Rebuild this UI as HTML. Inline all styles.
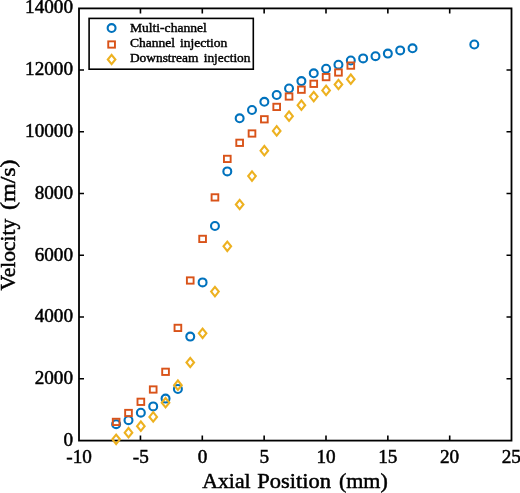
<!DOCTYPE html>
<html><head><meta charset="utf-8"><title>Velocity vs Axial Position</title>
<style>html,body{margin:0;padding:0;background:#fff;}body{width:520px;height:493px;overflow:hidden;}svg{display:block;}</style>
</head><body>
<svg width="520" height="493" viewBox="0 0 520 493">
<rect width="520" height="493" fill="#fff"/>
<rect x="79.0" y="8.4" width="432.5" height="432.20000000000005" fill="none" stroke="#000" stroke-width="1.8"/>
<path d="M140.45 440.6V435.6M140.45 8.4V13.4M202.30 440.6V435.6M202.30 8.4V13.4M264.15 440.6V435.6M264.15 8.4V13.4M326.00 440.6V435.6M326.00 8.4V13.4M387.85 440.6V435.6M387.85 8.4V13.4M449.70 440.6V435.6M449.70 8.4V13.4M79.0 378.74H84.0M511.5 378.74H506.5M79.0 316.98H84.0M511.5 316.98H506.5M79.0 255.22H84.0M511.5 255.22H506.5M79.0 193.46H84.0M511.5 193.46H506.5M79.0 131.70H84.0M511.5 131.70H506.5M79.0 69.94H84.0M511.5 69.94H506.5" stroke="#000" stroke-width="1.6" fill="none"/>
<g font-family="Liberation Serif, serif" font-size="19.2" fill="#000" stroke="#000" stroke-width="0.5"><text x="79.10" y="462.9" text-anchor="middle">-10</text><text x="140.85" y="462.9" text-anchor="middle">-5</text><text x="202.60" y="462.9" text-anchor="middle">0</text><text x="264.35" y="462.9" text-anchor="middle">5</text><text x="326.10" y="462.9" text-anchor="middle">10</text><text x="387.85" y="462.9" text-anchor="middle">15</text><text x="449.60" y="462.9" text-anchor="middle">20</text><text x="511.35" y="462.9" text-anchor="middle">25</text><text x="73" y="445.80" text-anchor="end">0</text><text x="73" y="384.04" text-anchor="end">2000</text><text x="73" y="322.28" text-anchor="end">4000</text><text x="73" y="260.52" text-anchor="end">6000</text><text x="73" y="198.76" text-anchor="end">8000</text><text x="73" y="137.00" text-anchor="end">10000</text><text x="73" y="75.24" text-anchor="end">12000</text><text x="73" y="13.48" text-anchor="end">14000</text></g>
<g font-family="Liberation Serif, serif" font-size="21.8" fill="#000" stroke="#000" stroke-width="0.5"><text x="202.2" y="488" textLength="48.5" lengthAdjust="spacingAndGlyphs">Axial</text><text x="257.3" y="488" textLength="73.8" lengthAdjust="spacingAndGlyphs">Position</text><text x="338.9" y="488" textLength="48.9" lengthAdjust="spacingAndGlyphs">(mm)</text></g>
<g transform="translate(15.3 0) rotate(-90)" font-family="Liberation Serif, serif" font-size="21.8" fill="#000" stroke="#000" stroke-width="0.5"><text x="-290.4" y="0" textLength="71.6" lengthAdjust="spacingAndGlyphs">Velocity</text><text x="-210.0" y="0" textLength="50.6" lengthAdjust="spacingAndGlyphs">(m/s)</text></g>
<g fill="none" stroke="#0072BD" stroke-width="2.1"><circle cx="116.15" cy="424.20" r="3.95"/><circle cx="128.50" cy="420.20" r="3.95"/><circle cx="140.85" cy="412.70" r="3.95"/><circle cx="153.20" cy="406.40" r="3.95"/><circle cx="165.55" cy="398.60" r="3.95"/><circle cx="177.90" cy="389.00" r="3.95"/><circle cx="190.25" cy="336.60" r="3.95"/><circle cx="202.60" cy="282.40" r="3.95"/><circle cx="214.95" cy="226.00" r="3.95"/><circle cx="227.30" cy="171.40" r="3.95"/><circle cx="239.65" cy="118.30" r="3.95"/><circle cx="252.00" cy="110.00" r="3.95"/><circle cx="264.35" cy="101.80" r="3.95"/><circle cx="276.70" cy="95.00" r="3.95"/><circle cx="289.05" cy="88.50" r="3.95"/><circle cx="301.40" cy="81.10" r="3.95"/><circle cx="313.75" cy="73.30" r="3.95"/><circle cx="326.10" cy="68.70" r="3.95"/><circle cx="338.45" cy="64.70" r="3.95"/><circle cx="350.80" cy="60.50" r="3.95"/><circle cx="363.15" cy="58.40" r="3.95"/><circle cx="375.50" cy="56.20" r="3.95"/><circle cx="387.85" cy="53.60" r="3.95"/><circle cx="400.20" cy="50.40" r="3.95"/><circle cx="412.55" cy="48.30" r="3.95"/><circle cx="474.30" cy="44.50" r="3.95"/></g>
<g fill="none" stroke="#D95319" stroke-width="1.9"><rect x="112.80" y="418.75" width="6.7" height="6.3"/><rect x="125.15" y="409.85" width="6.7" height="6.3"/><rect x="137.50" y="398.65" width="6.7" height="6.3"/><rect x="149.85" y="386.35" width="6.7" height="6.3"/><rect x="162.20" y="368.65" width="6.7" height="6.3"/><rect x="174.55" y="324.75" width="6.7" height="6.3"/><rect x="186.90" y="277.35" width="6.7" height="6.3"/><rect x="199.25" y="235.75" width="6.7" height="6.3"/><rect x="211.60" y="194.25" width="6.7" height="6.3"/><rect x="223.95" y="155.75" width="6.7" height="6.3"/><rect x="236.30" y="139.65" width="6.7" height="6.3"/><rect x="248.65" y="130.35" width="6.7" height="6.3"/><rect x="261.00" y="116.15" width="6.7" height="6.3"/><rect x="273.35" y="103.75" width="6.7" height="6.3"/><rect x="285.70" y="93.35" width="6.7" height="6.3"/><rect x="298.05" y="86.55" width="6.7" height="6.3"/><rect x="310.40" y="80.65" width="6.7" height="6.3"/><rect x="322.75" y="73.95" width="6.7" height="6.3"/><rect x="335.10" y="69.35" width="6.7" height="6.3"/><rect x="347.45" y="62.45" width="6.7" height="6.3"/></g>
<g fill="none" stroke="#EDB120" stroke-width="2.1" stroke-linejoin="miter"><path d="M116.15 434.60L119.95 439.30L116.15 444.00L112.35 439.30Z"/><path d="M128.50 428.00L132.30 432.70L128.50 437.40L124.70 432.70Z"/><path d="M140.85 421.50L144.65 426.20L140.85 430.90L137.05 426.20Z"/><path d="M153.20 412.20L157.00 416.90L153.20 421.60L149.40 416.90Z"/><path d="M165.55 398.00L169.35 402.70L165.55 407.40L161.75 402.70Z"/><path d="M177.90 380.50L181.70 385.20L177.90 389.90L174.10 385.20Z"/><path d="M190.25 357.80L194.05 362.50L190.25 367.20L186.45 362.50Z"/><path d="M202.60 328.60L206.40 333.30L202.60 338.00L198.80 333.30Z"/><path d="M214.95 286.90L218.75 291.60L214.95 296.30L211.15 291.60Z"/><path d="M227.30 241.60L231.10 246.30L227.30 251.00L223.50 246.30Z"/><path d="M239.65 199.80L243.45 204.50L239.65 209.20L235.85 204.50Z"/><path d="M252.00 171.40L255.80 176.10L252.00 180.80L248.20 176.10Z"/><path d="M264.35 146.00L268.15 150.70L264.35 155.40L260.55 150.70Z"/><path d="M276.70 126.20L280.50 130.90L276.70 135.60L272.90 130.90Z"/><path d="M289.05 111.50L292.85 116.20L289.05 120.90L285.25 116.20Z"/><path d="M301.40 100.50L305.20 105.20L301.40 109.90L297.60 105.20Z"/><path d="M313.75 91.90L317.55 96.60L313.75 101.30L309.95 96.60Z"/><path d="M326.10 85.70L329.90 90.40L326.10 95.10L322.30 90.40Z"/><path d="M338.45 79.80L342.25 84.50L338.45 89.20L334.65 84.50Z"/><path d="M350.80 74.50L354.60 79.20L350.80 83.90L347.00 79.20Z"/></g>
<rect x="89.1" y="18.4" width="164.20000000000002" height="50.800000000000004" fill="#fff" stroke="#000" stroke-width="1.6"/>
<g fill="none" stroke="#0072BD" stroke-width="2.1"><circle cx="111.60" cy="28.05" r="3.95"/></g>
<g fill="none" stroke="#D95319" stroke-width="1.9"><rect x="108.25" y="41.35" width="6.7" height="6.3"/></g>
<g fill="none" stroke="#EDB120" stroke-width="2.1"><path d="M111.60 54.80L115.40 59.50L111.60 64.20L107.80 59.50Z"/></g>
<g font-family="Liberation Serif, serif" font-size="12.8" fill="#000" stroke="#000" stroke-width="0.4"><text x="129.9" y="31.6" textLength="77.0" lengthAdjust="spacingAndGlyphs">Multi-channel</text><text x="129.9" y="46.8" textLength="45.2" lengthAdjust="spacingAndGlyphs">Channel</text><text x="180.0" y="46.8" textLength="47.3" lengthAdjust="spacingAndGlyphs">injection</text><text x="129.9" y="62.1" textLength="68.5" lengthAdjust="spacingAndGlyphs">Downstream</text><text x="203.7" y="62.1" textLength="46.8" lengthAdjust="spacingAndGlyphs">injection</text></g>
</svg>
</body></html>
